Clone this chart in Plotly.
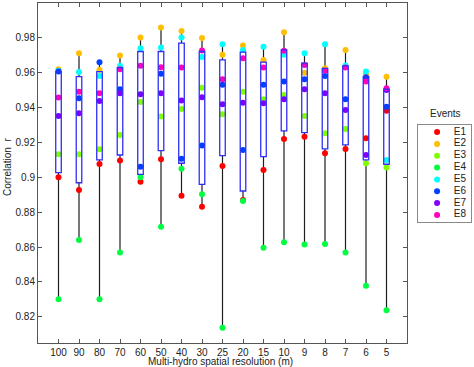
import numpy as np
import plotly.graph_objects as go

resolutions = ["100", "90", "80", "70", "60", "50", "40", "30", "25", "20", "15", "10", "9", "8", "7", "6", "5"]
event_names = ["E1", "E2", "E3", "E4", "E5", "E6", "E7", "E8"]
event_colors = ["#ff0000", "#ffbf00", "#80ff00", "#00ff40", "#00ffff", "#0040ff", "#8000ff", "#ff00bf"]

E1 = [0.8999, 0.8927, 0.9076, 0.9095, 0.8974, 0.9103, 0.8894, 0.8831, 0.9064, 0.8870, 0.9041, 0.9219, 0.9232, 0.9137, 0.9162, 0.9223, 0.9381]
E2 = [0.9619, 0.9710, 0.9615, 0.9697, 0.9800, 0.9857, 0.9838, 0.9797, 0.9701, 0.9754, 0.9672, 0.9831, 0.9599, 0.9624, 0.9729, 0.9590, 0.9576]
E3 = [0.9131, 0.9131, 0.9160, 0.9242, 0.9431, 0.9347, 0.9391, 0.9513, 0.9361, 0.9490, 0.9447, 0.9471, 0.9351, 0.9252, 0.9276, 0.9080, 0.9055]
E4 = [0.8300, 0.8640, 0.8300, 0.8569, 0.9000, 0.8716, 0.9049, 0.8902, 0.8137, 0.8864, 0.8596, 0.8627, 0.8615, 0.8617, 0.8569, 0.8378, 0.8238]
E5 = [0.9610, 0.9602, 0.9580, 0.9638, 0.9739, 0.9743, 0.9800, 0.9688, 0.9762, 0.9729, 0.9748, 0.9701, 0.9710, 0.9762, 0.9640, 0.9605, 0.9099]
E6 = [0.9605, 0.9452, 0.9659, 0.9504, 0.9060, 0.9592, 0.9106, 0.9181, 0.9529, 0.9156, 0.9529, 0.9548, 0.9561, 0.9580, 0.9447, 0.9573, 0.9404]
E7 = [0.9351, 0.9366, 0.9437, 0.9481, 0.9475, 0.9481, 0.9439, 0.9458, 0.9418, 0.9427, 0.9424, 0.9447, 0.9504, 0.9481, 0.9385, 0.9127, 0.9500]
E8 = [0.9456, 0.9490, 0.9481, 0.9619, 0.9639, 0.9630, 0.9628, 0.9726, 0.9561, 0.9682, 0.9628, 0.9724, 0.9643, 0.9611, 0.9628, 0.9548, 0.9510]

box_upper = [0.9605, 0.9576, 0.9605, 0.9628, 0.9720, 0.9720, 0.9768, 0.9720, 0.9672, 0.9716, 0.9659, 0.9729, 0.9653, 0.9624, 0.9638, 0.9576, 0.9504]
box_lower = [0.9026, 0.8968, 0.9099, 0.9127, 0.9016, 0.9152, 0.9080, 0.8959, 0.9123, 0.8921, 0.9118, 0.9265, 0.9255, 0.9162, 0.9185, 0.9099, 0.9074]

y_ticks = [0.82, 0.84, 0.86, 0.88, 0.90, 0.92, 0.94, 0.96, 0.98]
y_tick_labels = ["0.82", "0.84", "0.86", "0.88", "0.9", "0.92", "0.94", "0.96", "0.98"]

events = [E1, E2, E3, E4, E5, E6, E7, E8]
vals = np.array(events)
vmin = vals.min(axis=0)
vmax = vals.max(axis=0)

FONT = "Liberation Sans, Arial, Helvetica, sans-serif"
BOX_BLUE = "#2f2ff5"
AXIS_C = "#555555"
TXT_C = "#222222"

fig = go.Figure()

# whiskers (min -> lower box edge, upper box edge -> max)
wx, wy = [], []
for c, lo, q1, q3, hi in zip(resolutions, vmin, box_lower, box_upper, vmax):
    wx += [c, c, None, c, c, None]
    wy += [lo, q1, None, q3, hi, None]
fig.add_trace(go.Scatter(x=wx, y=wy, mode="lines", line=dict(color="#1e1e1e", width=1.2),
                         showlegend=False, hoverinfo="skip"))

# event points
for name, col, ev in zip(event_names, event_colors, events):
    fig.add_trace(go.Scatter(x=resolutions, y=ev, mode="markers", name=name, showlegend=False,
                             marker=dict(color=col, size=6, line=dict(width=0))))

# boxes on an overlay axis so their edges sit above the points
heights = np.array(box_upper) - np.array(box_lower)
fig.add_trace(go.Bar(x=resolutions, y=heights, base=box_lower, width=0.27,
                     marker=dict(color="rgba(0,0,0,0)", line=dict(color=BOX_BLUE, width=1.3)),
                     xaxis="x2", yaxis="y2", showlegend=False, hoverinfo="skip"))

# legend panel (compact, Matlab-like) on its own small axes
fig.add_trace(go.Scatter(x=[0.36] * len(event_names), y=event_names, mode="markers",
                         marker=dict(color=event_colors, size=6, line=dict(width=0)),
                         xaxis="x3", yaxis="y3", showlegend=False, hoverinfo="skip"))
fig.add_trace(go.Scatter(x=[0.79] * len(event_names), y=event_names, mode="text",
                         text=event_names, textposition="middle center",
                         textfont=dict(size=10, color=TXT_C),
                         xaxis="x3", yaxis="y3", showlegend=False, hoverinfo="skip"))

yr = [0.805, 0.9998]
xr = [-1, len(resolutions)]

W, H = 474, 367
ML, MR, MT, MB = 38, 2, 3, 24
PW, PH = W - ML - MR, H - MT - MB


def px_x(p):
    return (p - ML) / PW


def px_y(p):
    return (H - MB - p) / PH


main_dom = [0, px_x(407)]
leg_xdom = [px_x(418), px_x(471)]
leg_ydom = [px_y(222), px_y(125)]

fig.update_layout(
    width=W, height=H,
    margin=dict(l=ML, r=MR, t=MT, b=MB),
    paper_bgcolor="white", plot_bgcolor="white",
    font=dict(family=FONT, size=10, color=TXT_C),
    showlegend=False,
    xaxis=dict(domain=main_dom, type="category", categoryorder="array", categoryarray=resolutions, range=xr,
               showline=True, mirror="allticks", linecolor=AXIS_C, linewidth=1,
               ticks="inside", ticklen=4, tickcolor=AXIS_C, showgrid=False, zeroline=False,
               tickfont=dict(size=10, color=TXT_C), ticklabelstandoff=0),
    yaxis=dict(range=yr, tickvals=y_ticks, ticktext=y_tick_labels,
               showline=True, mirror="allticks", linecolor=AXIS_C, linewidth=1,
               ticks="inside", ticklen=4, tickcolor=AXIS_C, showgrid=False, zeroline=False,
               tickfont=dict(size=10, color=TXT_C)),
    xaxis2=dict(domain=main_dom, type="category", categoryorder="array", categoryarray=resolutions, range=xr,
                overlaying="x", visible=False),
    yaxis2=dict(range=yr, overlaying="y", visible=False),
    xaxis3=dict(domain=leg_xdom, anchor="y3", range=[0, 1], showline=True, mirror=True,
                linecolor="#8a8a8a", linewidth=1, showticklabels=False, ticks="",
                showgrid=False, zeroline=False, fixedrange=True),
    yaxis3=dict(domain=leg_ydom, anchor="x3", type="category", categoryorder="array",
                categoryarray=event_names[::-1], range=[-0.6, len(event_names) - 0.4],
                showline=True, mirror=True, linecolor="#8a8a8a", linewidth=1,
                showticklabels=False, ticks="", showgrid=False, zeroline=False, fixedrange=True),
    annotations=[
        dict(text="Correlation  r", textangle=-90, xref="paper", yref="paper",
             x=px_x(8), y=px_y(167), xanchor="center", yanchor="middle", showarrow=False,
             font=dict(size=10, color=TXT_C)),
        dict(text="Multi-hydro spatial resolution (m)", xref="paper", yref="paper",
             x=px_x(220), y=px_y(361.5), xanchor="center", yanchor="middle", showarrow=False,
             font=dict(size=10, color=TXT_C)),
        dict(text="Events", xref="paper", yref="paper",
             x=px_x(445), y=px_y(114), xanchor="center", yanchor="middle", showarrow=False,
             font=dict(size=10, color=TXT_C)),
    ],
)

fig.write_html("out.html", post_script="document.body.style.margin='0px';",
               config={"displayModeBar": False, "staticPlot": True})
